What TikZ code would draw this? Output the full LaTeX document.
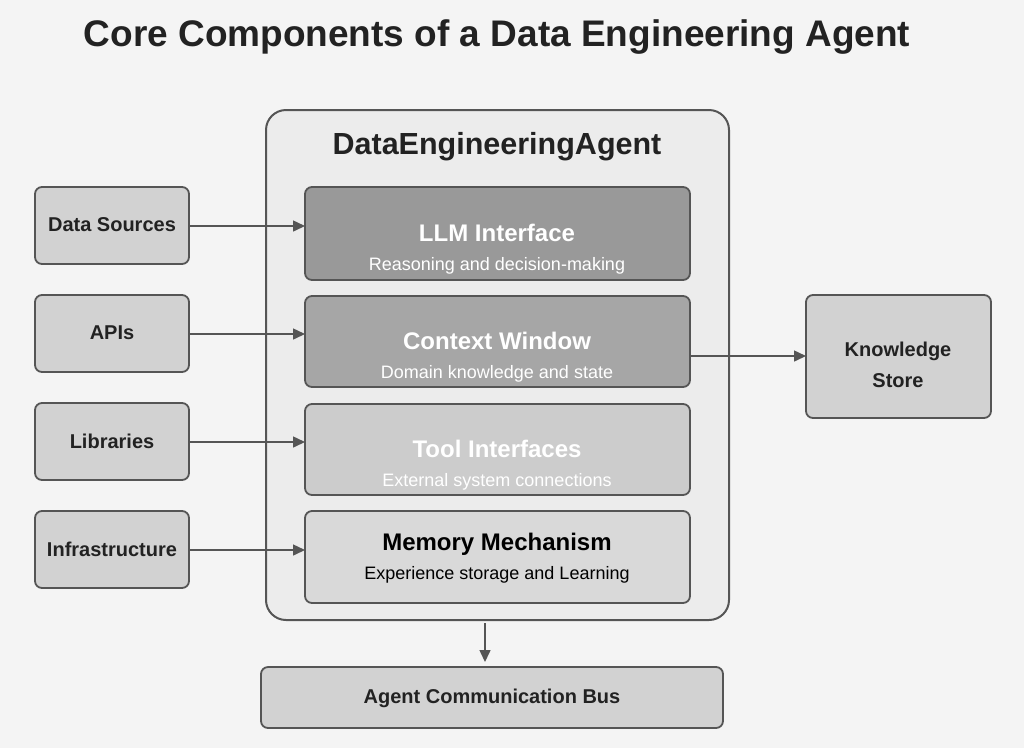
\documentclass[tikz,border=0pt]{standalone}
\usepackage{fontspec}
\setmainfont{Liberation Sans}
\usetikzlibrary{arrows.meta}
\definecolor{bg}{HTML}{F4F4F4}
\definecolor{edge}{HTML}{555555}
\definecolor{txt}{HTML}{222222}
\tikzset{
  box/.style={draw=edge, line width=1.8pt, rounded corners=7pt, fill=#1},
  lbl/.style={font=\bfseries\fontsize{20}{24}\selectfont, text=txt, align=center},
  hd/.style={font=\bfseries\fontsize{24}{28}\selectfont},
  sub/.style={font=\fontsize{18}{21}\selectfont},
  arr/.style={draw=edge, line width=1.5pt, -{Triangle[length=12pt,width=11pt]}}
}
\begin{document}
\begin{tikzpicture}[x=1pt,y=-1pt]
\fill[bg] (0,0) rectangle (1024,748);
\useasboundingbox (0,0) rectangle (1024,748);
\node[font=\bfseries\fontsize{37}{40}\selectfont, text=txt] (title) at (497,37) {Core Components of a Data Engineering Agent};
\draw[box=gray!15, line width=2pt, rounded corners=20pt] (266,110) rectangle (729,620);
\coordinate (outerb) at (485,623);
\node[font=\bfseries\fontsize{30.5}{34}\selectfont, text=txt] (agent) at (497,147) {DataEngineeringAgent};
% inner
\draw[box={gray!80}] (305,187) rectangle (690,280);
\node[hd, text=white] (llm) at (497,233) {LLM Interface};
\node[sub, text=white] at (497,266) {Reasoning and decision-making};
\coordinate (llmw) at (305,226);
\draw[box={gray!70}] (305,296) rectangle (690,387);
\node[hd, text=white] (ctx) at (497,341) {Context Window};
\node[sub, text=white] at (497,374) {Domain knowledge and state};
\coordinate (ctxw) at (305,334);
\coordinate (ctxe) at (690,356);
\draw[box={gray!40}] (305,404) rectangle (690,495);
\node[hd, text=white] (tool) at (497,449) {Tool Interfaces};
\node[sub, text=white] at (497,482) {External system connections};
\coordinate (toolw) at (305,442);
\draw[box={gray!30}] (305,511) rectangle (690,603);
\node[hd, text=black] (mem) at (497,544) {Memory Mechanism};
\node[sub, text=black] at (497,575) {Experience storage and Learning};
\coordinate (memw) at (305,550);
% left
\foreach \n/\t/\y in {ds/Data Sources/187, api/APIs/295, lib/Libraries/403, inf/Infrastructure/511}{
  \draw[box=gray!35] (35,\y) rectangle (189,\y+77);
  \node[lbl] (\n) at (112,\y+38) {\t};
  \coordinate (\n e) at (189,\y+39);
}
\draw[box=gray!35] (806,295) rectangle (991,418);
\node[lbl, text width=170pt] (ks) at (898,365) {Knowledge\\[7pt]Store};
\coordinate (ksw) at (806,356);
\draw[box=gray!35] (261,667) rectangle (723,728);
\node[lbl] (bus) at (492,698) {Agent Communication Bus};
\coordinate (busn) at (485,662);
\draw[arr] (dse) -- (llmw);
\draw[arr] (apie) -- (ctxw);
\draw[arr] (libe) -- (toolw);
\draw[arr] (infe) -- (memw);
\draw[arr] (ctxe) -- (ksw);
\draw[arr] (outerb) -- (busn);
\end{tikzpicture}
\end{document}
